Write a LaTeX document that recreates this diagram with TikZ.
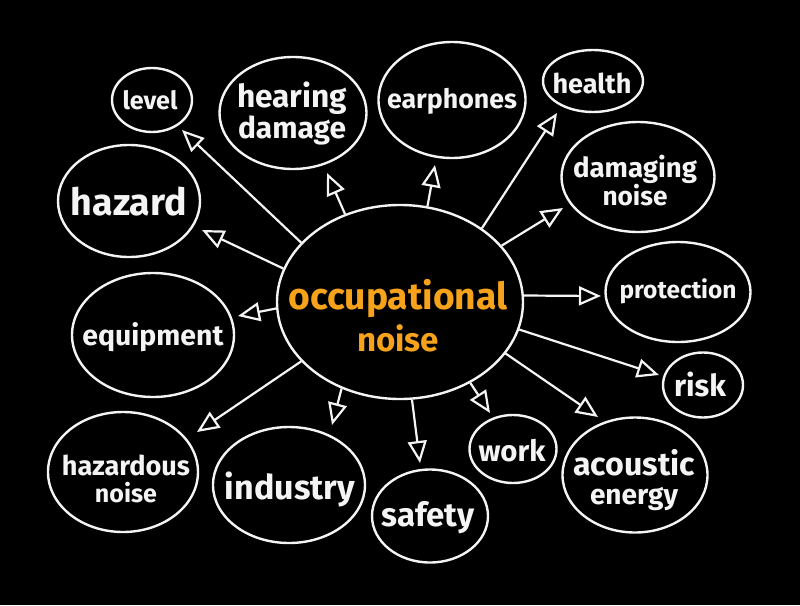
\documentclass[tikz,border=0pt]{standalone}
\usepackage{fontspec}
\setmainfont{Fira Sans}
\usetikzlibrary{arrows.meta,shapes.geometric}
\definecolor{chalk}{HTML}{F4F4F4}
\definecolor{orng}{HTML}{F7A21B}
\newcommand\lw[2]{\resizebox{#1pt}{!}{#2}}
\tikzset{
  bubble/.style={ellipse, draw=chalk, line width=2.4pt, inner sep=0pt, fill=black},
  wtext/.style={text=chalk, align=center, inner sep=0pt},
  arr/.style={draw=chalk, line width=2.2pt, -{Triangle[open,length=22pt,width=19pt]}}
}
\begin{document}
\begin{tikzpicture}[x=1pt,y=-1pt]
\fill[black] (0,0) rectangle (800,605);
% centre
\node[bubble, minimum width=246pt, minimum height=194pt] (occ) at (400,302) {};
\node[wtext, text=orng, font=\fontsize{34}{42}\selectfont\bfseries] (occt) at (398,316) {\lw{219}{occupational}\\\lw{82}{noise}};
% outer bubbles
\node[bubble, minimum width=80pt, minimum height=64pt] (level) at (152,100) {};
\node[wtext, font=\fontsize{24}{26}\selectfont\bfseries] (levelt) at (150,100) {\lw{55}{level}};
\node[bubble, minimum width=147pt, minimum height=112pt] (hear) at (293,113) {};
\node[wtext, font=\fontsize{28}{31}\selectfont\bfseries] (heart) at (292,113) {\lw{110}{hearing}\\\lw{108}{damage}};
\node[bubble, minimum width=147pt, minimum height=116pt] (earph) at (452,100) {};
\node[wtext, font=\fontsize{26}{28}\selectfont\bfseries] (earpht) at (452,101) {\lw{130}{earphones}};
\node[bubble, minimum width=100pt, minimum height=62pt] (health) at (593,81) {};
\node[wtext, font=\fontsize{24}{26}\selectfont\bfseries] (healtht) at (592,83) {\lw{79}{health}};
\node[bubble, minimum width=153pt, minimum height=110pt] (damag) at (638,177) {};
\node[wtext, font=\fontsize{26}{28}\selectfont\bfseries] (damagt) at (635,181) {\lw{124}{damaging}\\\lw{65}{noise}};
\node[bubble, minimum width=142pt, minimum height=112pt] (hazard) at (129,201) {};
\node[wtext, font=\fontsize{34}{36}\selectfont\bfseries] (hazardt) at (129,202) {\lw{116}{hazard}};
\node[bubble, minimum width=145pt, minimum height=100pt] (prot) at (678,292) {};
\node[wtext, font=\fontsize{22}{24}\selectfont\bfseries] (prott) at (678,291) {\lw{117}{protection}};
\node[bubble, minimum width=162pt, minimum height=124pt] (equip) at (153,335) {};
\node[wtext, font=\fontsize{28}{30}\selectfont\bfseries] (equipt) at (153,337) {\lw{141}{equipment}};
\node[bubble, minimum width=80pt, minimum height=65pt] (risk) at (703,385) {};
\node[wtext, font=\fontsize{28}{30}\selectfont\bfseries] (riskt) at (700,384) {\lw{52}{risk}};
\node[bubble, minimum width=150pt, minimum height=120pt] (hzn) at (123,472) {};
\node[wtext, font=\fontsize{24}{27}\selectfont\bfseries] (hznt) at (126,479) {\lw{128}{hazardous}\\\lw{62}{noise}};
\node[bubble, minimum width=152pt, minimum height=116pt] (indu) at (289,485) {};
\node[wtext, font=\fontsize{30}{32}\selectfont\bfseries] (indut) at (290,489) {\lw{130}{industry}};
\node[bubble, minimum width=116pt, minimum height=93pt] (safe) at (430,516) {};
\node[wtext, font=\fontsize{28}{30}\selectfont\bfseries] (safet) at (428,518) {\lw{93}{safety}};
\node[bubble, minimum width=87pt, minimum height=68pt] (work) at (513,449) {};
\node[wtext, font=\fontsize{28}{30}\selectfont\bfseries] (workt) at (512,451) {\lw{67}{work}};
\node[bubble, minimum width=145pt, minimum height=115pt] (acou) at (635,475) {};
\node[wtext, font=\fontsize{26}{29}\selectfont\bfseries] (acout) at (634,480) {\lw{122}{acoustic}\\\lw{88}{energy}};
% arrow tips
\coordinate (tlevel) at (182,130);
\coordinate (thazard) at (202,230);
\coordinate (thear) at (327,173);
\coordinate (tearph) at (435,165);
\coordinate (thealth) at (557,113);
\coordinate (tdamag) at (563,208);
\coordinate (tprot) at (601,296);
\coordinate (trisk) at (659,375);
\coordinate (tacou) at (598,417);
\coordinate (twork) at (490,413);
\coordinate (tsafe) at (420,463);
\coordinate (tindu) at (332,425);
\coordinate (thzn) at (197,432);
\coordinate (tequip) at (238,316);
% arrows
\draw[arr] (occ.149) -- (tlevel);
\draw[arr] (occ.164) -- (thazard);
\draw[arr] (occ.122.5) -- (thear);
\draw[arr] (occ.74) -- (tearph);
\draw[arr] (occ.42) -- (thealth);
\draw[arr] (occ.29) -- (tdamag);
\draw[arr] (occ.3) -- (tprot);
\draw[arr] (occ.-13) -- (trisk);
\draw[arr] (occ.-26) -- (tacou);
\draw[arr] (occ.-49) -- (twork);
\draw[arr] (occ.-83) -- (tsafe);
\draw[arr] (occ.236) -- (tindu);
\draw[arr] (occ.211) -- (thzn);
\draw[arr] (occ.183) -- (tequip);
\end{tikzpicture}
\end{document}
